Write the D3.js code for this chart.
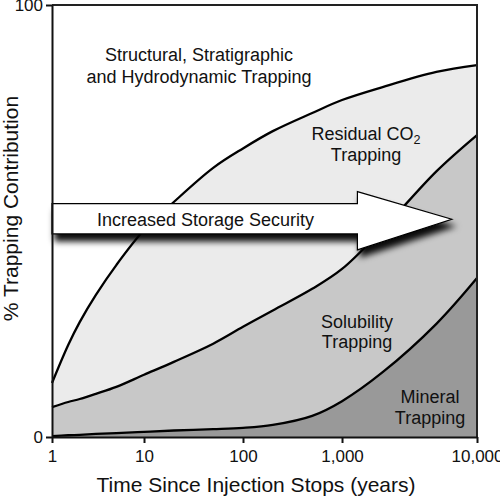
<!DOCTYPE html>
<html><head><meta charset="utf-8">
<script src="https://cdn.jsdelivr.net/npm/d3@7"></script>
<style>
body{margin:0;background:#fff}
text{font-family:"Liberation Sans",Arial,Helvetica,sans-serif;fill:#111}
</style>
</head><body>
<svg id="chart" width="500" height="496"></svg>
<script>
// ---- data ----
const years = [1, 1.5, 2, 3, 5, 10, 20, 50, 100, 200, 500, 1000, 2000, 5000, 10000];
// cumulative % (upper boundary of each trapping band)
const residualTop   = [12.5, 21.3, 26.6, 32.9, 39.8, 47.9, 54.4, 62.3, 66.8, 70.8, 75.0, 78.0, 81.0, 84.5, 86.1];
const solubilityTop = [6.9, 8.1, 8.8, 10.0, 11.6, 14.4, 17.4, 21.6, 25.5, 29.3, 34.3, 38.9, 48.1, 61.5, 69.9];
const mineralTop    = [0.2, 0.4, 0.5, 0.7, 0.9, 1.2, 1.5, 1.8, 2.1, 2.8, 4.9, 8.3, 15.0, 26.2, 36.8];
const xTicks = [1, 10, 100, 1000, 10000];
const xTickLabels = ["1", "10", "100", "1,000", "10,000"];
const yTicks = [0, 100];
const yTickLabels = ["0", "100"];
// arrow annotation (years, %)
const arrowYears = [1, 1300, 6500];          // tail, head base, tip
const arrowLevels = [43.3, 47.0, 50.4, 54.0, 56.8]; // head low, body low, tip, body high, head high

// ---- layout ----
const L = 52, R = 477, T = 5, B = 437;
const svg = d3.select("#chart");

// the reference's decades are unevenly spaced: piecewise log scale
const x = d3.scaleLog().domain(xTicks)
  .range([L, L + (R - L) * 0.2165, L + (R - L) * 0.4494, L + (R - L) * 0.6824, R]);
const y = d3.scaleLinear().domain([0, 100]).range([B, T]);

const rows = years.map((t, i) => ({t, r: residualTop[i], s: solubilityTop[i], m: mineralTop[i]}));
const curve = d3.curveCatmullRom.alpha(0.5);

const defs = svg.append("defs");
const f = defs.append("filter").attr("id", "sh").attr("x", "-10%").attr("y", "-30%").attr("width", "130%").attr("height", "190%");
f.append("feDropShadow").attr("dx", 3).attr("dy", 7).attr("stdDeviation", 3)
  .attr("flood-color", "#000").attr("flood-opacity", 0.95);

// bands
const bands = [
  {lo: d => y(d.s), hi: d => y(d.r), fill: "#ebebeb"},
  {lo: d => y(d.m), hi: d => y(d.s), fill: "#c8c8c8"},
  {lo: d => y(0),   hi: d => y(d.m), fill: "#999999"}
];
bands.forEach(b => {
  svg.append("path").datum(rows)
    .attr("d", d3.area().x(d => x(d.t)).y0(b.lo).y1(b.hi).curve(curve))
    .attr("fill", b.fill);
});

// boundary lines
["r", "s", "m"].forEach(k => {
  svg.append("path").datum(rows)
    .attr("d", d3.line().x(d => x(d.t)).y(d => y(d[k])).curve(curve))
    .attr("fill", "none").attr("stroke", "#000").attr("stroke-width", 2.3);
});

// arrow
const [ax0, axh, axt] = arrowYears.map(x);
const [hLo, bLo, tip, bHi, hHi] = arrowLevels.map(y);
const ap = d3.path();
ap.moveTo(ax0, bHi); ap.lineTo(axh, bHi); ap.lineTo(axh, hHi); ap.lineTo(axt, tip);
ap.lineTo(axh, hLo); ap.lineTo(axh, bLo); ap.lineTo(ax0, bLo); ap.closePath();
svg.append("path").attr("d", ap.toString()).attr("fill", "#fff")
  .attr("stroke", "#000").attr("stroke-width", 1.2).attr("filter", "url(#sh)");

// labels
function label(lines, cx, baselines, size) {
  lines.forEach((ln, i) => {
    const t = svg.append("text").attr("x", cx).attr("y", baselines[i])
      .attr("text-anchor", "middle").attr("font-size", size);
    if (Array.isArray(ln)) {
      t.append("tspan").text(ln[0]);
      t.append("tspan").attr("font-size", size * 0.7).attr("dy", 4).text(ln[1]);
    } else t.text(ln);
  });
}
label(["Structural, Stratigraphic", "and Hydrodynamic Trapping"], 199, [61, 83], 18);
label([["Residual CO", "2"], "Trapping"], 366, [140, 161], 18);
label(["Increased Storage Security"], 205.5, [226], 18);
label(["Solubility", "Trapping"], 357, [328, 348], 18);
label(["Mineral", "Trapping"], 430, [403, 424], 18);

// frame (top/right)
svg.append("path").attr("d", `M${L},${T}H${R}V${B}`).attr("fill", "none")
  .attr("stroke", "#222").attr("stroke-width", 2);

// axes
const xa = svg.append("g").attr("transform", `translate(0,${B})`)
  .call(d3.axisBottom(x).tickValues(xTicks).tickFormat((d, i) => xTickLabels[i]).tickSize(6).tickPadding(7).tickSizeOuter(0));
const ya = svg.append("g").attr("transform", `translate(${L},0)`)
  .call(d3.axisLeft(y).tickValues(yTicks).tickFormat((d, i) => yTickLabels[i]).tickSize(6).tickPadding(3).tickSizeOuter(0));
[xa, ya].forEach(g => {
  g.select(".domain").attr("stroke", "#111").attr("stroke-width", 2);
  g.selectAll(".tick line").attr("stroke", "#111").attr("stroke-width", 2);
  g.selectAll(".tick text").attr("font-size", 17).attr("font-family", "Liberation Sans, Arial, sans-serif").attr("fill", "#111");
});

svg.append("text").attr("x", 256).attr("y", 492).attr("text-anchor", "middle")
  .attr("font-size", 21).text("Time Since Injection Stops (years)");
svg.append("text").attr("transform", "rotate(-90)").attr("x", -208.5).attr("y", 18)
  .attr("text-anchor", "middle").attr("font-size", 21).text("% Trapping Contribution");
</script>
</body></html>
